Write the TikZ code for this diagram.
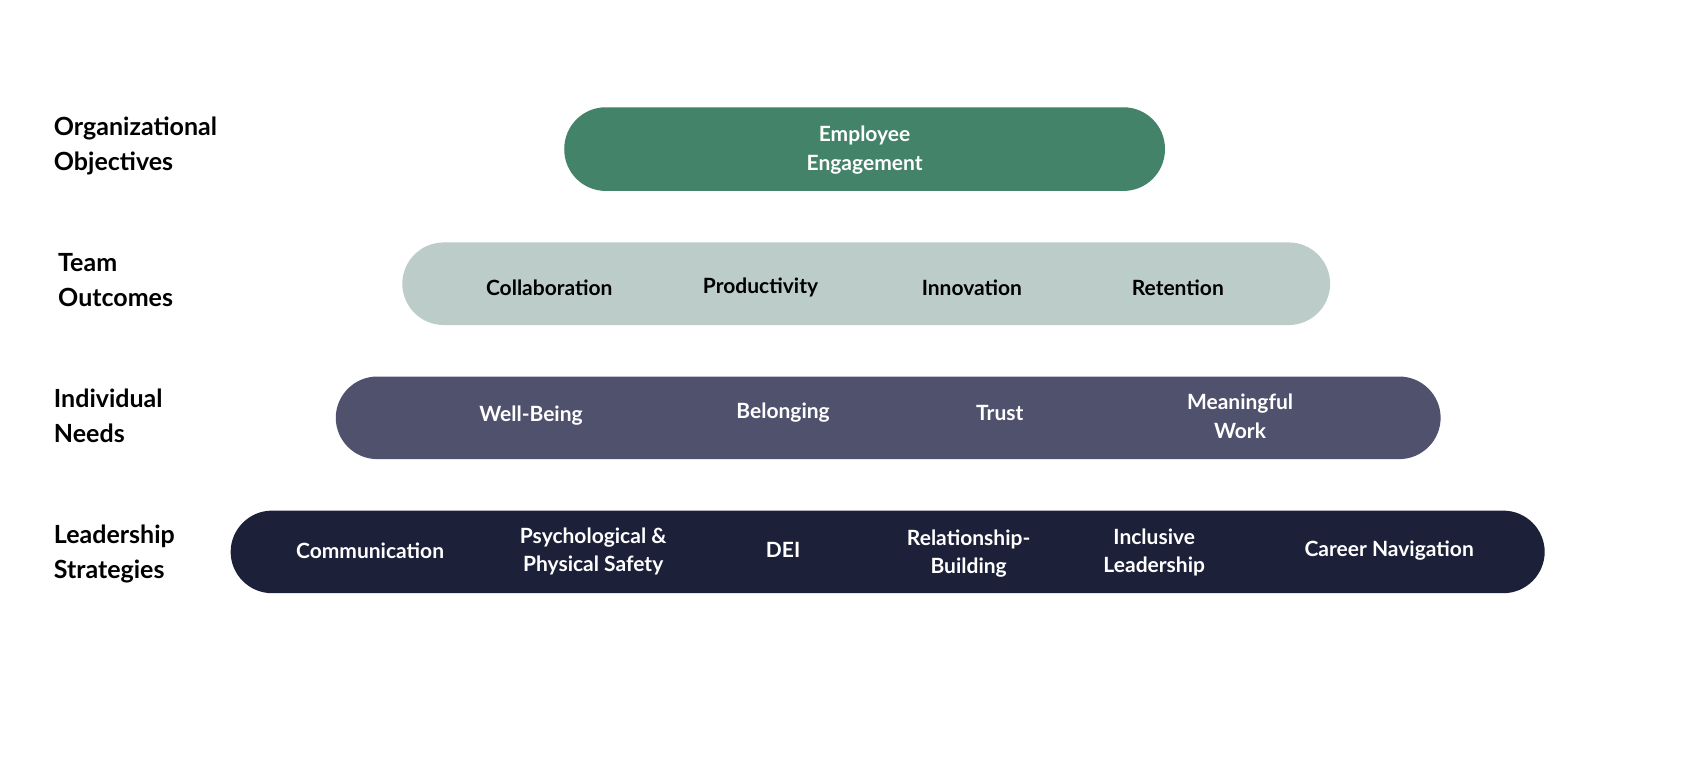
\documentclass[tikz,border=0pt]{standalone}
\usepackage{fontspec}
\setmainfont{Lato}
\begin{document}
\begin{tikzpicture}[x=1.0727pt,y=-1.0727pt,
 pill/.style={rounded corners=41.5pt,inner sep=0pt},
 it/.style={font=\bfseries\fontsize{21}{28.5}\selectfont,align=center},
 lab/.style={font=\bfseries\fontsize{25}{35}\selectfont,align=left,anchor=west}]
\definecolor{cg}{HTML}{43836A}\definecolor{cl}{HTML}{BCCDC9}
\definecolor{cp}{HTML}{4F516D}\definecolor{cn}{HTML}{1C2038}
\useasboundingbox (0,0) rectangle (1568,705);
\fill[cg,pill] (526,100) rectangle (1086,178);
\fill[cl,pill] (375,226) rectangle (1240,303);
\fill[cp,pill] (313,351) rectangle (1343,428);
\fill[cn,pill] (215,476) rectangle (1440,553);
\node[lab] (l1) at (47,136) {Organizational\\Objectives};
\node[lab] (l2) at (51,261) {Team\\Outcomes};
\node[lab] (l3) at (47,388) {Individual\\Needs};
\node[lab] (l4) at (47,516) {Leadership\\Strategies};
\node[it,white] (e) at (806,140) {Employee\\Engagement};
\node[it] (t1) at (512,268) {Collaboration};
\node[it] (t2) at (709,268) {Productivity};
\node[it] (t3) at (906,268) {Innovation};
\node[it] (t4) at (1098,268) {Retention};
\begin{scope}[every node/.append style={white}]
\node[it] (i1) at (495,387) {Well-Being};
\node[it] (i2) at (730,385) {Belonging};
\node[it] (i3) at (932,385) {Trust};
\node[it] (i4) at (1156,388) {Meaningful\\Work};
\node[it] (s1) at (345,513) {Communication};
\node[it] (s2) at (553,514) {Psychological \&\\Physical Safety};
\node[it] (s3) at (730,513) {DEI};
\node[it] (s4) at (903,516) {Relationship-\\Building};
\node[it] (s5) at (1076,515) {Inclusive\\Leadership};
\node[it] (s6) at (1295,513) {Career Navigation};
\end{scope}
\end{tikzpicture}
\end{document}
